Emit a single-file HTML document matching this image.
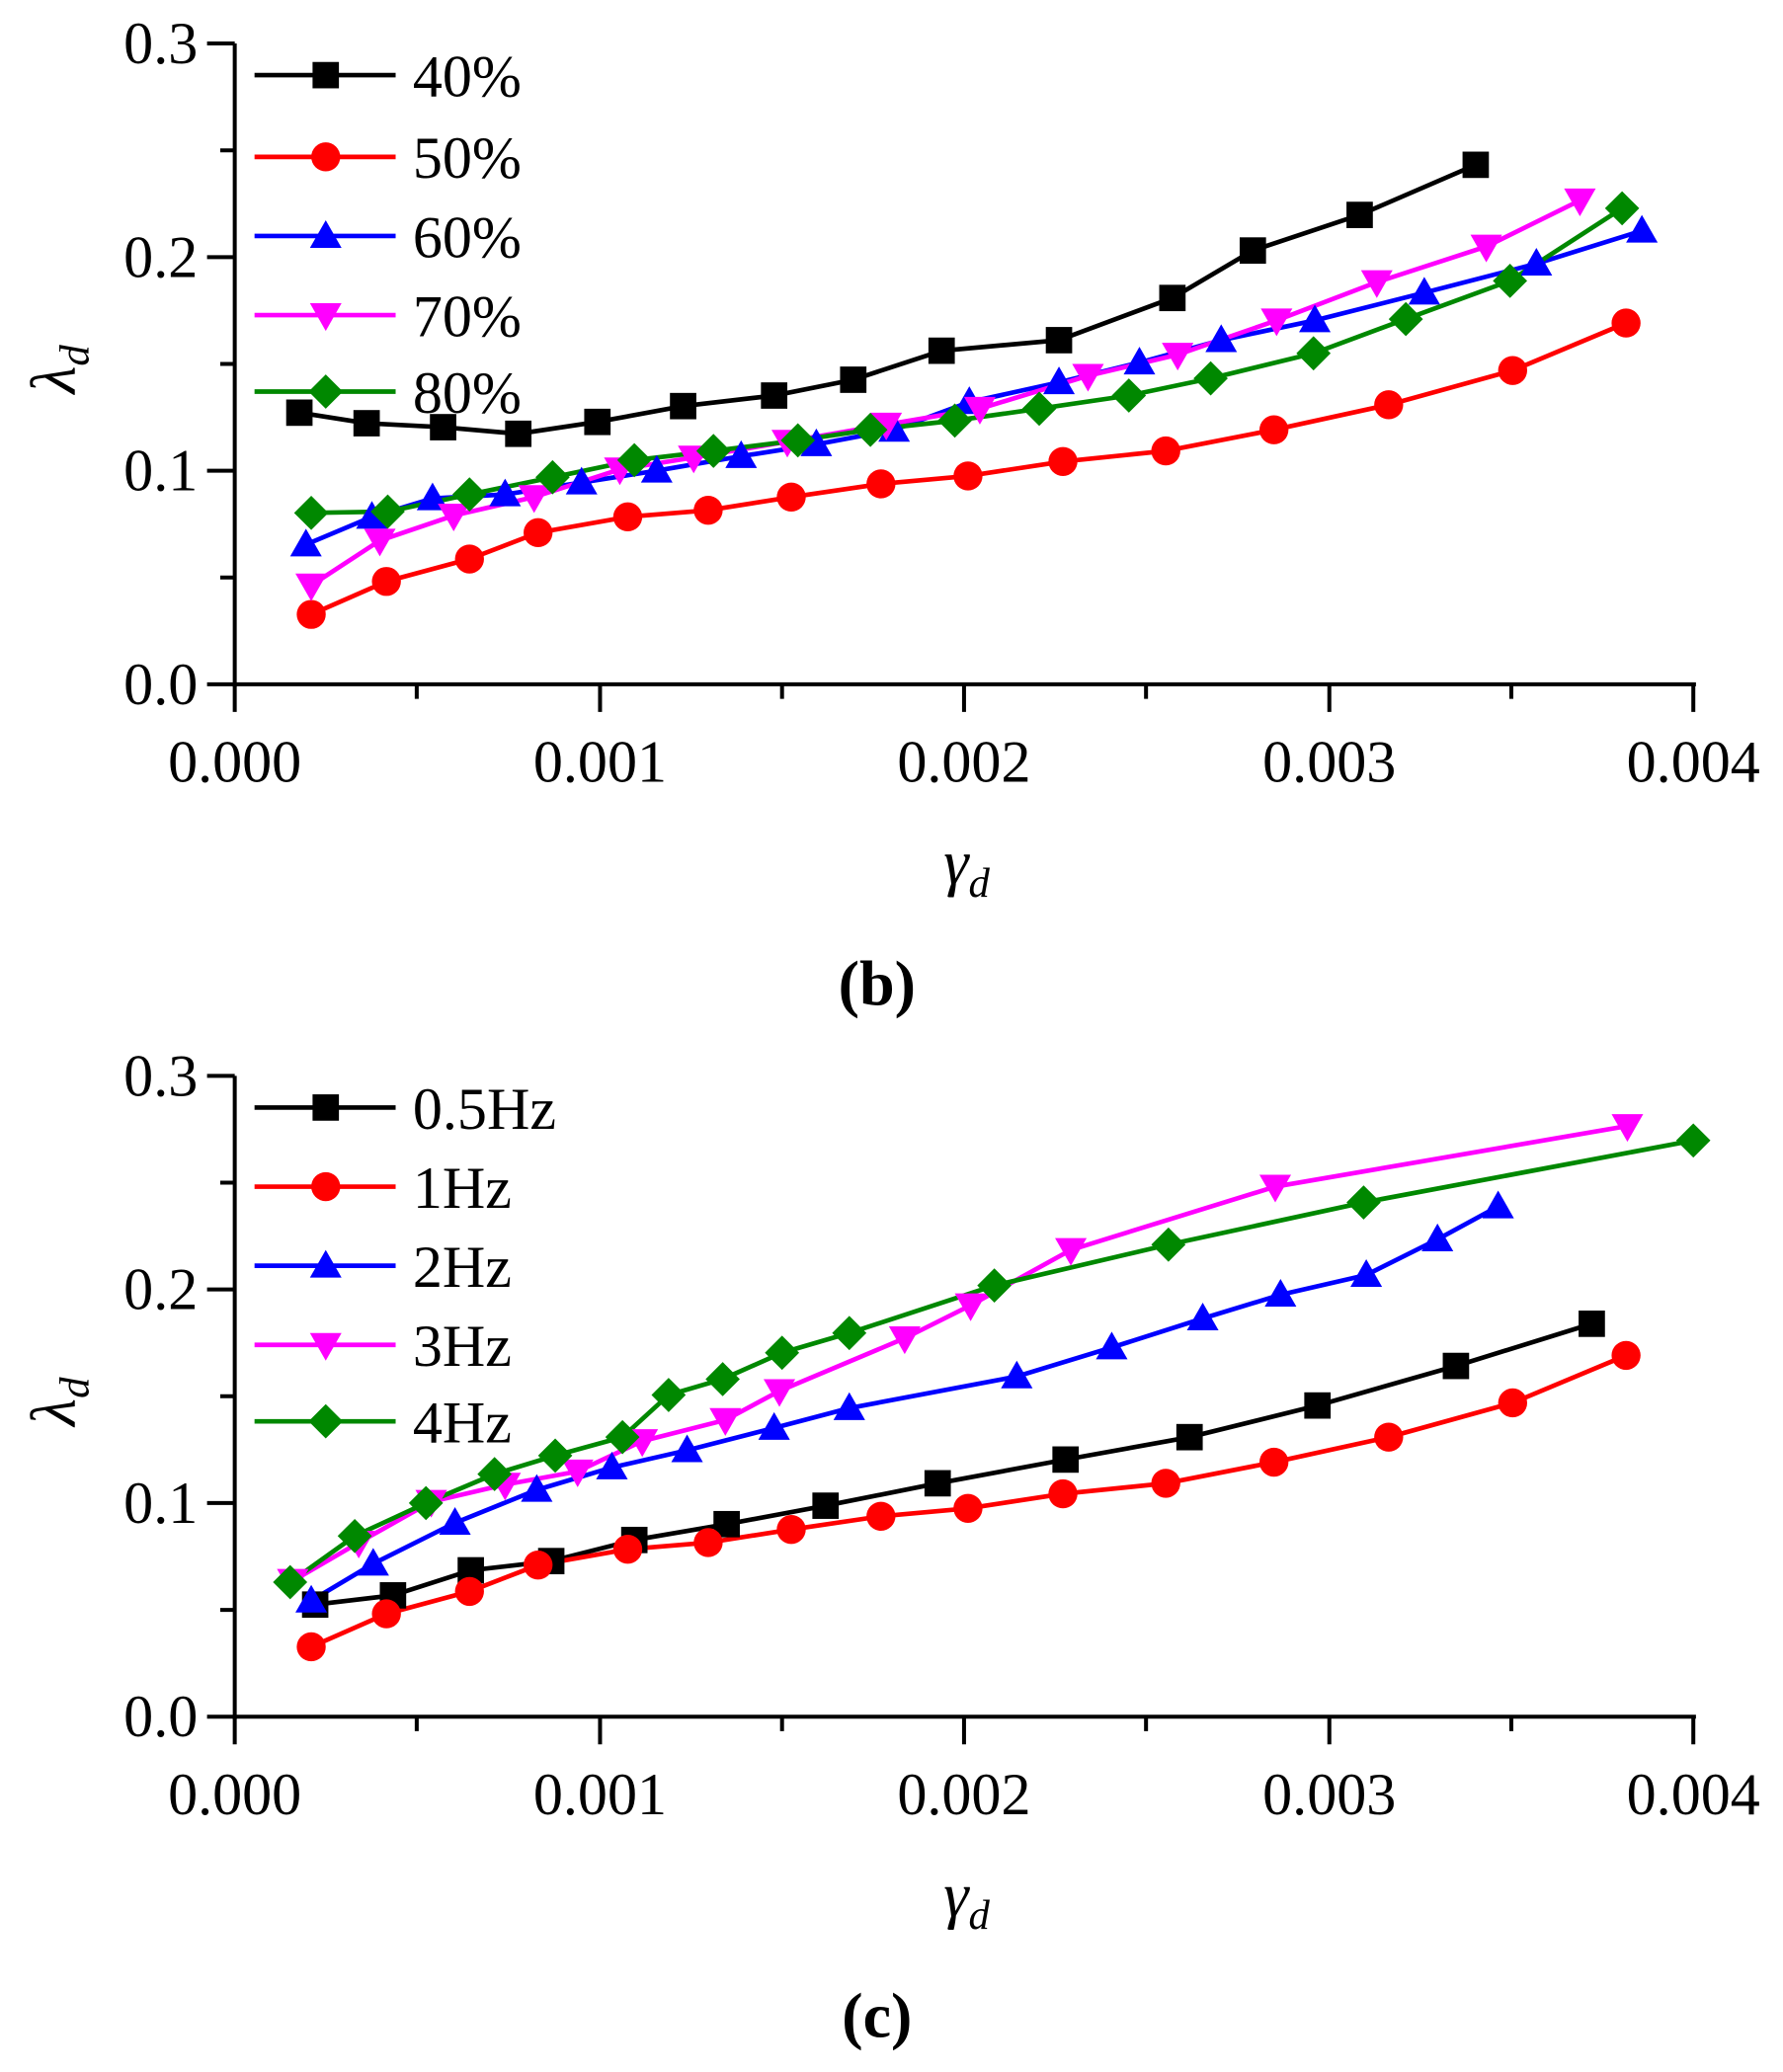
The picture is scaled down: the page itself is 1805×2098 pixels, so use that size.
<!DOCTYPE html>
<html><head><meta charset="utf-8"><style>
html,body{margin:0;padding:0;background:#fff;}
svg{display:block;}
text{font-family:"Liberation Serif",serif;fill:#000;}
</style></head><body>
<svg width="1805" height="2098" viewBox="0 0 1352 1571.5" preserveAspectRatio="none" xmlns="http://www.w3.org/2000/svg" xmlns:xlink="http://www.w3.org/1999/xlink">
<defs>
<polygon id="tu" points="0,-12 12,9 -12,9" fill="#00f"/>
<polygon id="td" points="0,12 12,-9 -12,-9" fill="#f0f"/>
<polygon id="di" points="0,-13 13,0 0,13 -13,0" fill="#080"/>
</defs>
<g stroke="#000" stroke-width="3" fill="none">
<path d="M178,33 V521 M157,519 H1286"/>
<path d="M157,33 H178 M157,195 H178 M157,357 H178 M167,114 H178 M167,276 H178 M167,438 H178"/>
<path d="M178,519 V540 M455,519 V540 M731,519 V540 M1008,519 V540 M1284,519 V540 M316,519 V530 M593,519 V530 M869,519 V530 M1146,519 V530"/>
<path d="M178,816 V1304 M157,1302 H1286"/>
<path d="M157,816 H178 M157,978 H178 M157,1140 H178 M167,897 H178 M167,1059 H178 M167,1221 H178"/>
<path d="M178,1302 V1323 M455,1302 V1323 M731,1302 V1323 M1008,1302 V1323 M1284,1302 V1323 M316,1302 V1313 M593,1302 V1313 M869,1302 V1313 M1146,1302 V1313"/>
</g>
<g font-size="45" text-anchor="end">
<text x="150" y="48">0.3</text><text x="150" y="210">0.2</text><text x="150" y="372">0.1</text><text x="150" y="534">0.0</text>
<text x="150" y="831">0.3</text><text x="150" y="993">0.2</text><text x="150" y="1155">0.1</text><text x="150" y="1317">0.0</text>
</g>
<g font-size="45" text-anchor="middle">
<text x="178" y="593">0.000</text><text x="455" y="593">0.001</text><text x="731" y="593">0.002</text><text x="1008" y="593">0.003</text><text x="1284" y="593">0.004</text>
<text x="178" y="1376">0.000</text><text x="455" y="1376">0.001</text><text x="731" y="1376">0.002</text><text x="1008" y="1376">0.003</text><text x="1284" y="1376">0.004</text>
<text x="733" y="670" font-style="italic" font-size="48">γ<tspan font-size="32" dy="10">d</tspan></text>
<text x="733" y="1453" font-style="italic" font-size="48">γ<tspan font-size="32" dy="10">d</tspan></text>
<text x="665" y="762" font-size="48" font-weight="bold">(b)</text>
<text x="665" y="1545" font-size="48" font-weight="bold">(c)</text>
</g>
<text transform="translate(57,280) rotate(-90)" font-size="48" font-style="italic" text-anchor="middle">λ<tspan font-size="32" dy="10">d</tspan></text>
<text transform="translate(57,1063) rotate(-90)" font-size="48" font-style="italic" text-anchor="middle">λ<tspan font-size="32" dy="10">d</tspan></text>

<g fill="none" stroke-width="3.5">
<polyline stroke="#000" points="227,313 278,321 336,324 393,329 453,320 518,308 587,300 647,288 714,266 803,258 889,226 950,190 1031,163 1119,125"/>
<polyline stroke="#f00" points="236,466 293,441 356,424 408,404 476,392 537,387 600,377 668,367 734,361 806,350 884,342 966,326 1053,307 1147,281 1233,245"/>
<polyline stroke="#00f" points="232,413 282,392 328,378 383,375 441,366 498,357 562,346 619,337 678,326 735,305 803,290 864,275 926,258 997,243 1080,222 1165,200 1245,175"/>
<polyline stroke="#f0f" points="236,444 288,410 344,391 405,377 470,356 526,347 597,335 672,322 743,310 825,285 893,269 968,243 1044,214 1127,187 1198,152"/>
<polyline stroke="#080" points="236,389 294,388 356,375 419,362 481,349 541,342 605,334 660,326 724,319 788,310 856,300 918,287 996,268 1066,242 1145,213 1230,158"/>
<polyline stroke="#000" points="239,1217 298,1210 357,1191 418,1184 481,1168 551,1156 626,1142 711,1125 808,1107 902,1090 999,1066 1104,1036 1207,1004"/>
<polyline stroke="#f00" points="236,1249 293,1224 356,1207 408,1187 476,1175 537,1170 600,1160 668,1150 734,1144 806,1133 884,1125 966,1109 1053,1090 1147,1064 1233,1028"/>
<polyline stroke="#00f" points="236,1214 283,1186 345,1155 407,1130 464,1113 521,1100 587,1083 644,1068 771,1044 843,1022 912,1000 971,982 1036,967 1090,940 1136,915"/>
<polyline stroke="#f0f" points="222,1199 272,1170 327,1139 383,1126 438,1116 487,1093 550,1077 591,1055 686,1015 736,990 812,948 967,900 1234,854"/>
<polyline stroke="#080" points="220,1200 269,1165 323,1140 375,1118 421,1104 472,1090 507,1058 548,1046 593,1026 644,1011 754,975 886,944 1034,912 1284,865"/>
<path stroke="#000" d="M193,57 H300 M193,840 H300"/>
<path stroke="#f00" d="M193,119 H300 M193,900 H300"/>
<path stroke="#00f" d="M193,179 H300 M193,960 H300"/>
<path stroke="#f0f" d="M193,239 H300 M193,1020 H300"/>
<path stroke="#080" d="M193,297 H300 M193,1078 H300"/>
</g>
<g fill="#000">
<rect x="237" y="47" width="20" height="20"/><rect x="237" y="830" width="20" height="20"/>
<rect x="217" y="303" width="20" height="20"/><rect x="268" y="311" width="20" height="20"/><rect x="326" y="314" width="20" height="20"/><rect x="383" y="319" width="20" height="20"/><rect x="443" y="310" width="20" height="20"/><rect x="508" y="298" width="20" height="20"/><rect x="577" y="290" width="20" height="20"/><rect x="637" y="278" width="20" height="20"/><rect x="704" y="256" width="20" height="20"/><rect x="793" y="248" width="20" height="20"/><rect x="879" y="216" width="20" height="20"/><rect x="940" y="180" width="20" height="20"/><rect x="1021" y="153" width="20" height="20"/><rect x="1109" y="115" width="20" height="20"/>
<rect x="229" y="1207" width="20" height="20"/><rect x="288" y="1200" width="20" height="20"/><rect x="347" y="1181" width="20" height="20"/><rect x="408" y="1174" width="20" height="20"/><rect x="471" y="1158" width="20" height="20"/><rect x="541" y="1146" width="20" height="20"/><rect x="616" y="1132" width="20" height="20"/><rect x="701" y="1115" width="20" height="20"/><rect x="798" y="1097" width="20" height="20"/><rect x="892" y="1080" width="20" height="20"/><rect x="989" y="1056" width="20" height="20"/><rect x="1094" y="1026" width="20" height="20"/><rect x="1197" y="994" width="20" height="20"/>
</g>
<g fill="#f00">
<circle cx="247" cy="119" r="11"/><circle cx="247" cy="900" r="11"/>
<circle cx="236" cy="466" r="11"/><circle cx="293" cy="441" r="11"/><circle cx="356" cy="424" r="11"/><circle cx="408" cy="404" r="11"/><circle cx="476" cy="392" r="11"/><circle cx="537" cy="387" r="11"/><circle cx="600" cy="377" r="11"/><circle cx="668" cy="367" r="11"/><circle cx="734" cy="361" r="11"/><circle cx="806" cy="350" r="11"/><circle cx="884" cy="342" r="11"/><circle cx="966" cy="326" r="11"/><circle cx="1053" cy="307" r="11"/><circle cx="1147" cy="281" r="11"/><circle cx="1233" cy="245" r="11"/>
<circle cx="236" cy="1249" r="11"/><circle cx="293" cy="1224" r="11"/><circle cx="356" cy="1207" r="11"/><circle cx="408" cy="1187" r="11"/><circle cx="476" cy="1175" r="11"/><circle cx="537" cy="1170" r="11"/><circle cx="600" cy="1160" r="11"/><circle cx="668" cy="1150" r="11"/><circle cx="734" cy="1144" r="11"/><circle cx="806" cy="1133" r="11"/><circle cx="884" cy="1125" r="11"/><circle cx="966" cy="1109" r="11"/><circle cx="1053" cy="1090" r="11"/><circle cx="1147" cy="1064" r="11"/><circle cx="1233" cy="1028" r="11"/>
</g>
<g>
<use xlink:href="#tu" x="247" y="179"/><use xlink:href="#tu" x="247" y="960"/>
<use xlink:href="#tu" x="232" y="413"/><use xlink:href="#tu" x="282" y="392"/><use xlink:href="#tu" x="328" y="378"/><use xlink:href="#tu" x="383" y="375"/><use xlink:href="#tu" x="441" y="366"/><use xlink:href="#tu" x="498" y="357"/><use xlink:href="#tu" x="562" y="346"/><use xlink:href="#tu" x="619" y="337"/><use xlink:href="#tu" x="678" y="326"/><use xlink:href="#tu" x="735" y="305"/><use xlink:href="#tu" x="803" y="290"/><use xlink:href="#tu" x="864" y="275"/><use xlink:href="#tu" x="926" y="258"/><use xlink:href="#tu" x="997" y="243"/><use xlink:href="#tu" x="1080" y="222"/><use xlink:href="#tu" x="1165" y="200"/><use xlink:href="#tu" x="1245" y="175"/>
<use xlink:href="#tu" x="236" y="1214"/><use xlink:href="#tu" x="283" y="1186"/><use xlink:href="#tu" x="345" y="1155"/><use xlink:href="#tu" x="407" y="1130"/><use xlink:href="#tu" x="464" y="1113"/><use xlink:href="#tu" x="521" y="1100"/><use xlink:href="#tu" x="587" y="1083"/><use xlink:href="#tu" x="644" y="1068"/><use xlink:href="#tu" x="771" y="1044"/><use xlink:href="#tu" x="843" y="1022"/><use xlink:href="#tu" x="912" y="1000"/><use xlink:href="#tu" x="971" y="982"/><use xlink:href="#tu" x="1036" y="967"/><use xlink:href="#tu" x="1090" y="940"/><use xlink:href="#tu" x="1136" y="915"/>
<use xlink:href="#td" x="247" y="239"/><use xlink:href="#td" x="247" y="1020"/>
<use xlink:href="#td" x="236" y="444"/><use xlink:href="#td" x="288" y="410"/><use xlink:href="#td" x="344" y="391"/><use xlink:href="#td" x="405" y="377"/><use xlink:href="#td" x="470" y="356"/><use xlink:href="#td" x="526" y="347"/><use xlink:href="#td" x="597" y="335"/><use xlink:href="#td" x="672" y="322"/><use xlink:href="#td" x="743" y="310"/><use xlink:href="#td" x="825" y="285"/><use xlink:href="#td" x="893" y="269"/><use xlink:href="#td" x="968" y="243"/><use xlink:href="#td" x="1044" y="214"/><use xlink:href="#td" x="1127" y="187"/><use xlink:href="#td" x="1198" y="152"/>
<use xlink:href="#td" x="222" y="1199"/><use xlink:href="#td" x="272" y="1170"/><use xlink:href="#td" x="327" y="1139"/><use xlink:href="#td" x="383" y="1126"/><use xlink:href="#td" x="438" y="1116"/><use xlink:href="#td" x="487" y="1093"/><use xlink:href="#td" x="550" y="1077"/><use xlink:href="#td" x="591" y="1055"/><use xlink:href="#td" x="686" y="1015"/><use xlink:href="#td" x="736" y="990"/><use xlink:href="#td" x="812" y="948"/><use xlink:href="#td" x="967" y="900"/><use xlink:href="#td" x="1234" y="854"/>
<use xlink:href="#di" x="247" y="297"/><use xlink:href="#di" x="247" y="1078"/>
<use xlink:href="#di" x="236" y="389"/><use xlink:href="#di" x="294" y="388"/><use xlink:href="#di" x="356" y="375"/><use xlink:href="#di" x="419" y="362"/><use xlink:href="#di" x="481" y="349"/><use xlink:href="#di" x="541" y="342"/><use xlink:href="#di" x="605" y="334"/><use xlink:href="#di" x="660" y="326"/><use xlink:href="#di" x="724" y="319"/><use xlink:href="#di" x="788" y="310"/><use xlink:href="#di" x="856" y="300"/><use xlink:href="#di" x="918" y="287"/><use xlink:href="#di" x="996" y="268"/><use xlink:href="#di" x="1066" y="242"/><use xlink:href="#di" x="1145" y="213"/><use xlink:href="#di" x="1230" y="158"/>
<use xlink:href="#di" x="220" y="1200"/><use xlink:href="#di" x="269" y="1165"/><use xlink:href="#di" x="323" y="1140"/><use xlink:href="#di" x="375" y="1118"/><use xlink:href="#di" x="421" y="1104"/><use xlink:href="#di" x="472" y="1090"/><use xlink:href="#di" x="507" y="1058"/><use xlink:href="#di" x="548" y="1046"/><use xlink:href="#di" x="593" y="1026"/><use xlink:href="#di" x="644" y="1011"/><use xlink:href="#di" x="754" y="975"/><use xlink:href="#di" x="886" y="944"/><use xlink:href="#di" x="1034" y="912"/><use xlink:href="#di" x="1284" y="865"/>
</g>
<g font-size="45">
<text x="313" y="73">40%</text><text x="313" y="135">50%</text><text x="313" y="195">60%</text><text x="313" y="255">70%</text><text x="313" y="313">80%</text>
<text x="313" y="856">0.5Hz</text><text x="313" y="916">1Hz</text><text x="313" y="976">2Hz</text><text x="313" y="1036">3Hz</text><text x="313" y="1094">4Hz</text>
</g>
</svg>
</body></html>
